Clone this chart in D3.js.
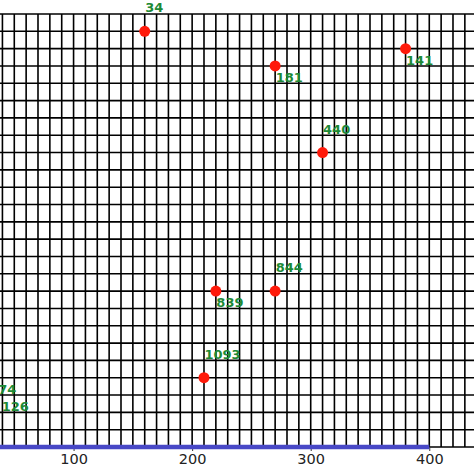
<!DOCTYPE html>
<html>
<head>
<meta charset="utf-8">
<script src="https://cdn.jsdelivr.net/npm/d3@7"></script>
<style>
  html, body { margin: 0; padding: 0; background: #fff; }
  svg { display: block; }
</style>
</head>
<body>
<div id="chart"></div>
<script>
// ---- data ----
const pointX     = [160, 270, 380, 310, 270, 220, 210, 36, 39];
const pointY     = [240, 220, 230, 170, 90, 90, 40, 40, 10];
const pointLabel = ["34", "181", "141", "440", "844", "839", "1093", "74", "126"];
const labelSide  = ["above", "below", "below", "above", "above", "below", "above", "below", "above"];
const xTicks     = [100, 200, 300, 400];
const baseLine   = [0, 400];   // x-extent of the blue base line at y = 0

// ---- layout ----
const W = 474, H = 474;
const svg = d3.select("#chart").append("svg")
  .attr("width", W).attr("height", H)
  .style("background", "#fff");

// the view is a crop of a larger axes: x = 0 lies left of the frame
const x = d3.scaleLinear().domain([0, 400]).range([-45, -45 + 400 * 1.1857]);
const y = d3.scaleLinear().domain([0, 250]).range([447, 14]);

const gridX = d3.range(40, 450, 10);
const gridY = d3.range(0, 260, 10);

const grid = svg.append("g").attr("stroke", "#000").attr("stroke-width", 1.6);
grid.selectAll("line.v").data(gridX).join("line").attr("class", "v")
  .attr("x1", d => x(d)).attr("x2", d => x(d))
  .attr("y1", y(250)).attr("y2", y(0));
grid.selectAll("line.h").data(gridY).join("line").attr("class", "h")
  .attr("x1", x(30)).attr("x2", x(450))
  .attr("y1", d => y(d)).attr("y2", d => y(d));

// x axis (ticks + labels)
const axis = d3.axisBottom(x).tickValues(xTicks).tickSize(4).tickPadding(3).tickFormat(d3.format("d"));
const ax = svg.append("g").attr("transform", `translate(0,${y(0)})`).call(axis);
ax.select(".domain").remove();
ax.selectAll(".tick line").attr("stroke", "#333").attr("stroke-width", 1);
ax.selectAll(".tick text")
  .attr("font-family", "DejaVu Sans")
  .attr("font-size", "14.5px")
  .attr("fill", "#222");

// blue base line
svg.append("line")
  .attr("x1", x(baseLine[0]) ).attr("x2", x(baseLine[1]))
  .attr("y1", y(0)).attr("y2", y(0))
  .attr("stroke", "#4848c6").attr("stroke-width", 4.5);

// points (clipped to the visible plot area)
svg.append("clipPath").attr("id", "plotclip")
  .append("rect").attr("x", 9).attr("y", 0).attr("width", W).attr("height", H);

const idx = d3.range(pointX.length);
svg.append("g").attr("clip-path", "url(#plotclip)")
  .selectAll("circle").data(idx).join("circle")
  .attr("cx", i => x(pointX[i]))
  .attr("cy", i => y(pointY[i]))
  .attr("r", 5.5)
  .attr("fill", "#ff1a0a");

svg.append("g").selectAll("text").data(idx).join("text")
  .attr("x", i => x(pointX[i]) + 0.5)
  .attr("y", i => y(pointY[i]) + (labelSide[i] === "above" ? -19 : 16))
  .attr("font-family", "DejaVu Sans")
  .attr("font-weight", "bold")
  .attr("font-size", "13px")
  .attr("fill", "#1d8a36")
  .text(i => pointLabel[i]);
</script>
</body>
</html>
